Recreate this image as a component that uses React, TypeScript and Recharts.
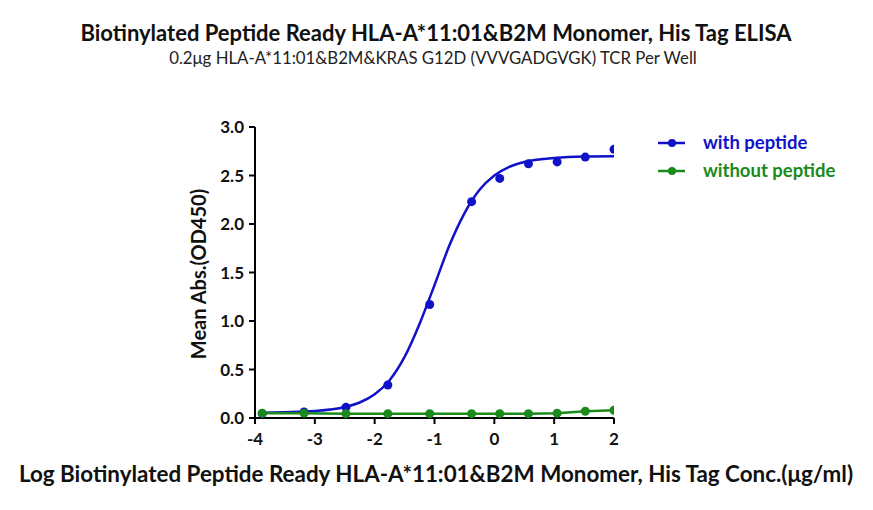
import React from "react";
import {
  ComposedChart,
  Line,
  Scatter,
  XAxis,
  YAxis,
} from "recharts";

// Log concentration (x) for each measured well
const logConc = [-3.88, -3.18, -2.48, -1.78, -1.08, -0.38, 0.09, 0.57, 1.05, 1.52, 2.0];
// Mean absorbance, with peptide
const withPeptide = [0.045, 0.062, 0.11, 0.34, 1.17, 2.23, 2.47, 2.62, 2.64, 2.69, 2.77];
// Mean absorbance, without peptide
const withoutPeptide = [0.05, 0.05, 0.045, 0.045, 0.045, 0.045, 0.045, 0.045, 0.05, 0.07, 0.08];

// Fitted curve (with peptide)
const curveX = [-3.88, -3.5, -3, -2.5, -2.25, -2, -1.75, -1.5, -1.25, -1, -0.75, -0.5, -0.25, 0, 0.25, 0.5, 1, 1.5, 2];
const curveY = [0.055, 0.06, 0.072, 0.113, 0.16, 0.245, 0.39, 0.63, 0.97, 1.37, 1.78, 2.11, 2.35, 2.5, 2.59, 2.64, 2.68, 2.695, 2.698];

const xTicks = [-4, -3, -2, -1, 0, 1, 2];
const yTicks = [0, 0.5, 1, 1.5, 2, 2.5, 3];

const seriesNames = ["with peptide", "without peptide"];
const titleText = "Biotinylated Peptide Ready HLA-A*11:01&B2M Monomer, His Tag ELISA";
const subtitleText = "0.2μg HLA-A*11:01&B2M&KRAS G12D (VVVGADGVGK) TCR Per Well";
const xLabel = "Log Biotinylated Peptide Ready HLA-A*11:01&B2M Monomer, His Tag Conc.(μg/ml)";
const yLabel = "Mean Abs.(OD450)";

const BLUE = "#0f12c8";
const GREEN = "#1a8a1a";
const FONT = "Lato, 'Noto Sans', sans-serif";

const withData = logConc.map((x, i) => ({ x, y: withPeptide[i] }));
const withoutData = logConc.map((x, i) => ({ x, y: withoutPeptide[i] }));
const curveData = curveX.map((x, i) => ({ x, y: curveY[i] }));
const colors = [BLUE, GREEN];

export default function App() {
  return (
    <div style={{ position: "absolute", left: 0, top: 0, width: 873, height: 510, background: "#fff" }}>
      <svg width={873} height={510} style={{ position: "absolute", left: 0, top: 0 }}>
        <text x={436} y={35} textAnchor="middle" dominantBaseline="middle" fontFamily={FONT} fontWeight="bold" fontSize={22} fill="#111">
          {titleText}
        </text>
        <text x={433} y={60} textAnchor="middle" dominantBaseline="middle" fontFamily={FONT} fontSize={16.8} fill="#222">
          {subtitleText}
        </text>
        <text x={436} y={476} textAnchor="middle" dominantBaseline="middle" fontFamily={FONT} fontWeight="bold" fontSize={22.4} fill="#111">
          {xLabel}
        </text>
        <text
          x={201}
          y={274}
          textAnchor="middle"
          dominantBaseline="middle"
          fontFamily={FONT}
          fontWeight="bold"
          fontSize={20}
          fill="#111"
          transform="rotate(-90 201 274)"
        >
          {yLabel}
        </text>
        {seriesNames.map((n, i) => (
          <g key={n} transform={`translate(658, ${143 + i * 28})`}>
            <line x1={0} x2={27} y1={0} y2={0} stroke={colors[i]} strokeWidth={2.5} />
            <circle cx={14} cy={0} r={4} fill={colors[i]} />
            <text x={45} y={1} dominantBaseline="middle" fill={colors[i]} fontFamily={FONT} fontWeight="bold" fontSize={18.5}>
              {n}
            </text>
          </g>
        ))}
      </svg>
      <div style={{ position: "absolute", left: 0, top: 0 }}>
        <ComposedChart width={873} height={510} margin={{ top: 127, right: 259, bottom: 62, left: 195 }}>
          <XAxis
            type="number"
            dataKey="x"
            domain={[-4, 2]}
            ticks={xTicks}
            allowDataOverflow
            stroke="#000"
            strokeWidth={2}
            tickSize={6}
            tickMargin={9}
            height={30}
            tick={{ fill: "#111", fontSize: 17, fontWeight: "bold", fontFamily: FONT }}
            tickFormatter={(v: number) => String(v)}
          />
          <YAxis
            type="number"
            dataKey="y"
            domain={[0, 3]}
            ticks={yTicks}
            allowDataOverflow
            stroke="#000"
            strokeWidth={2}
            tickSize={6}
            tickMargin={5}
            width={60}
            tick={{ fill: "#111", fontSize: 17, fontWeight: "bold", fontFamily: FONT }}
            tickFormatter={(v: number) => v.toFixed(1)}
          />
          <Line
            data={curveData}
            dataKey="y"
            type="monotone"
            stroke={BLUE}
            strokeWidth={2.5}
            dot={false}
            isAnimationActive={false}
            legendType="none"
          />
          <Scatter
            data={withData}
            dataKey="y"
            fill={BLUE}
            shape={(p: any) => <circle cx={p.cx} cy={p.cy} r={4.5} fill={BLUE} />}
            isAnimationActive={false}
          />
          <Line
            data={withoutData}
            dataKey="y"
            type="linear"
            stroke={GREEN}
            strokeWidth={2.5}
            dot={{ r: 4.5, fill: GREEN, stroke: GREEN, strokeWidth: 0 }}
            isAnimationActive={false}
          />
        </ComposedChart>
      </div>
    </div>
  );
}
